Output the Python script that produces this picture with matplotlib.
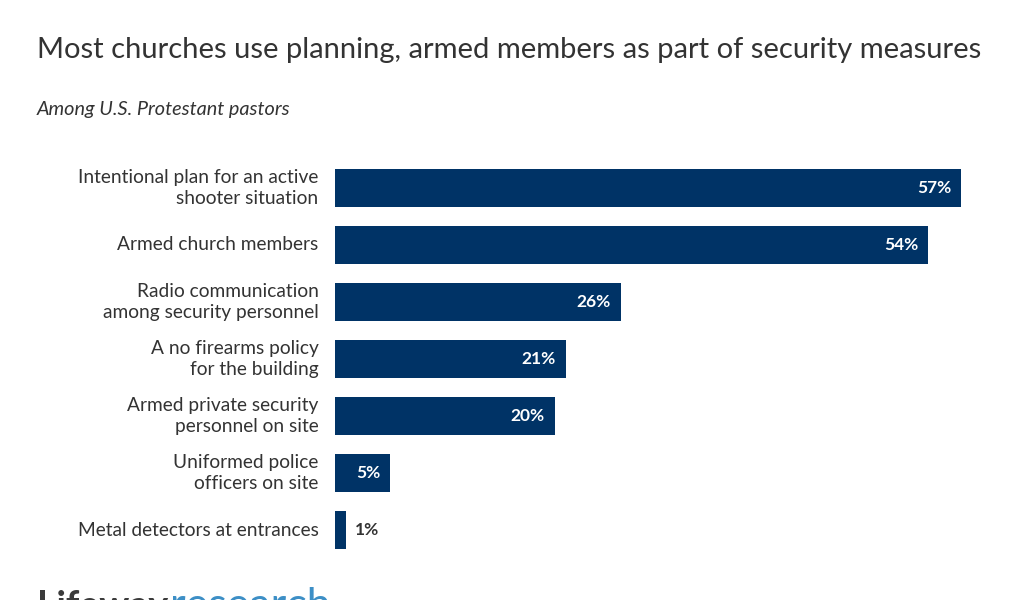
import matplotlib.pyplot as plt
import numpy as np

# data
labels = [
    "Intentional plan for an active\nshooter situation",
    "Armed church members",
    "Radio communication\namong security personnel",
    "A no firearms policy\nfor the building",
    "Armed private security\npersonnel on site",
    "Uniformed police\nofficers on site",
    "Metal detectors at entrances",
]
values = [57, 54, 26, 21, 20, 5, 1]

navy = "#003366"
plt.rcParams['font.family'] = ['Lato', 'DejaVu Sans']

fig = plt.figure(figsize=(10.24, 6), dpi=100)
ax = fig.add_axes([335 / 1024, 1 - 558.5 / 600, (961 - 335) / 1024, 399 / 600])

y = np.arange(len(values))
ax.barh(y, values, height=0.65, color=navy)
ax.set_xlim(0, 57)
ax.set_ylim(len(values) - 0.5, -0.5)
ax.axis('off')

for yi, v, lab in zip(y, values, labels):
    if v >= 5:
        ax.text(v - 0.9, yi, f"{v}%", ha='right', va='center', color='white',
                fontsize=12.5, fontweight='bold')
    else:
        ax.text(v + 0.8, yi, f"{v}%", ha='left', va='center', color='#333333',
                fontsize=12.5, fontweight='bold')
    ax.text(-1.5, yi, lab, ha='right', va='center', color='#333333',
            fontsize=13.8, linespacing=1.3)

fig.text(37 / 1024, 1 - 50 / 600, "Most churches use planning, armed members as part of security measures",
         ha='left', va='center', fontsize=21, color='#333333')
fig.text(37 / 1024, 1 - 109 / 600, "Among U.S. Protestant pastors",
         ha='left', va='center', fontsize=14.3, style='italic', color='#333333')

# logo, cut off at the bottom edge as in the source image
fig.text(37 / 1024, -0.03, "Lifeway", ha='left', va='baseline',
         fontsize=27, fontweight='bold', color='#3b3b3b')
fig.text(170 / 1024, -0.03, "research", ha='left', va='baseline',
         fontsize=31, color='#3d8fc6')

fig.savefig("out.png", dpi=100, facecolor='white')
